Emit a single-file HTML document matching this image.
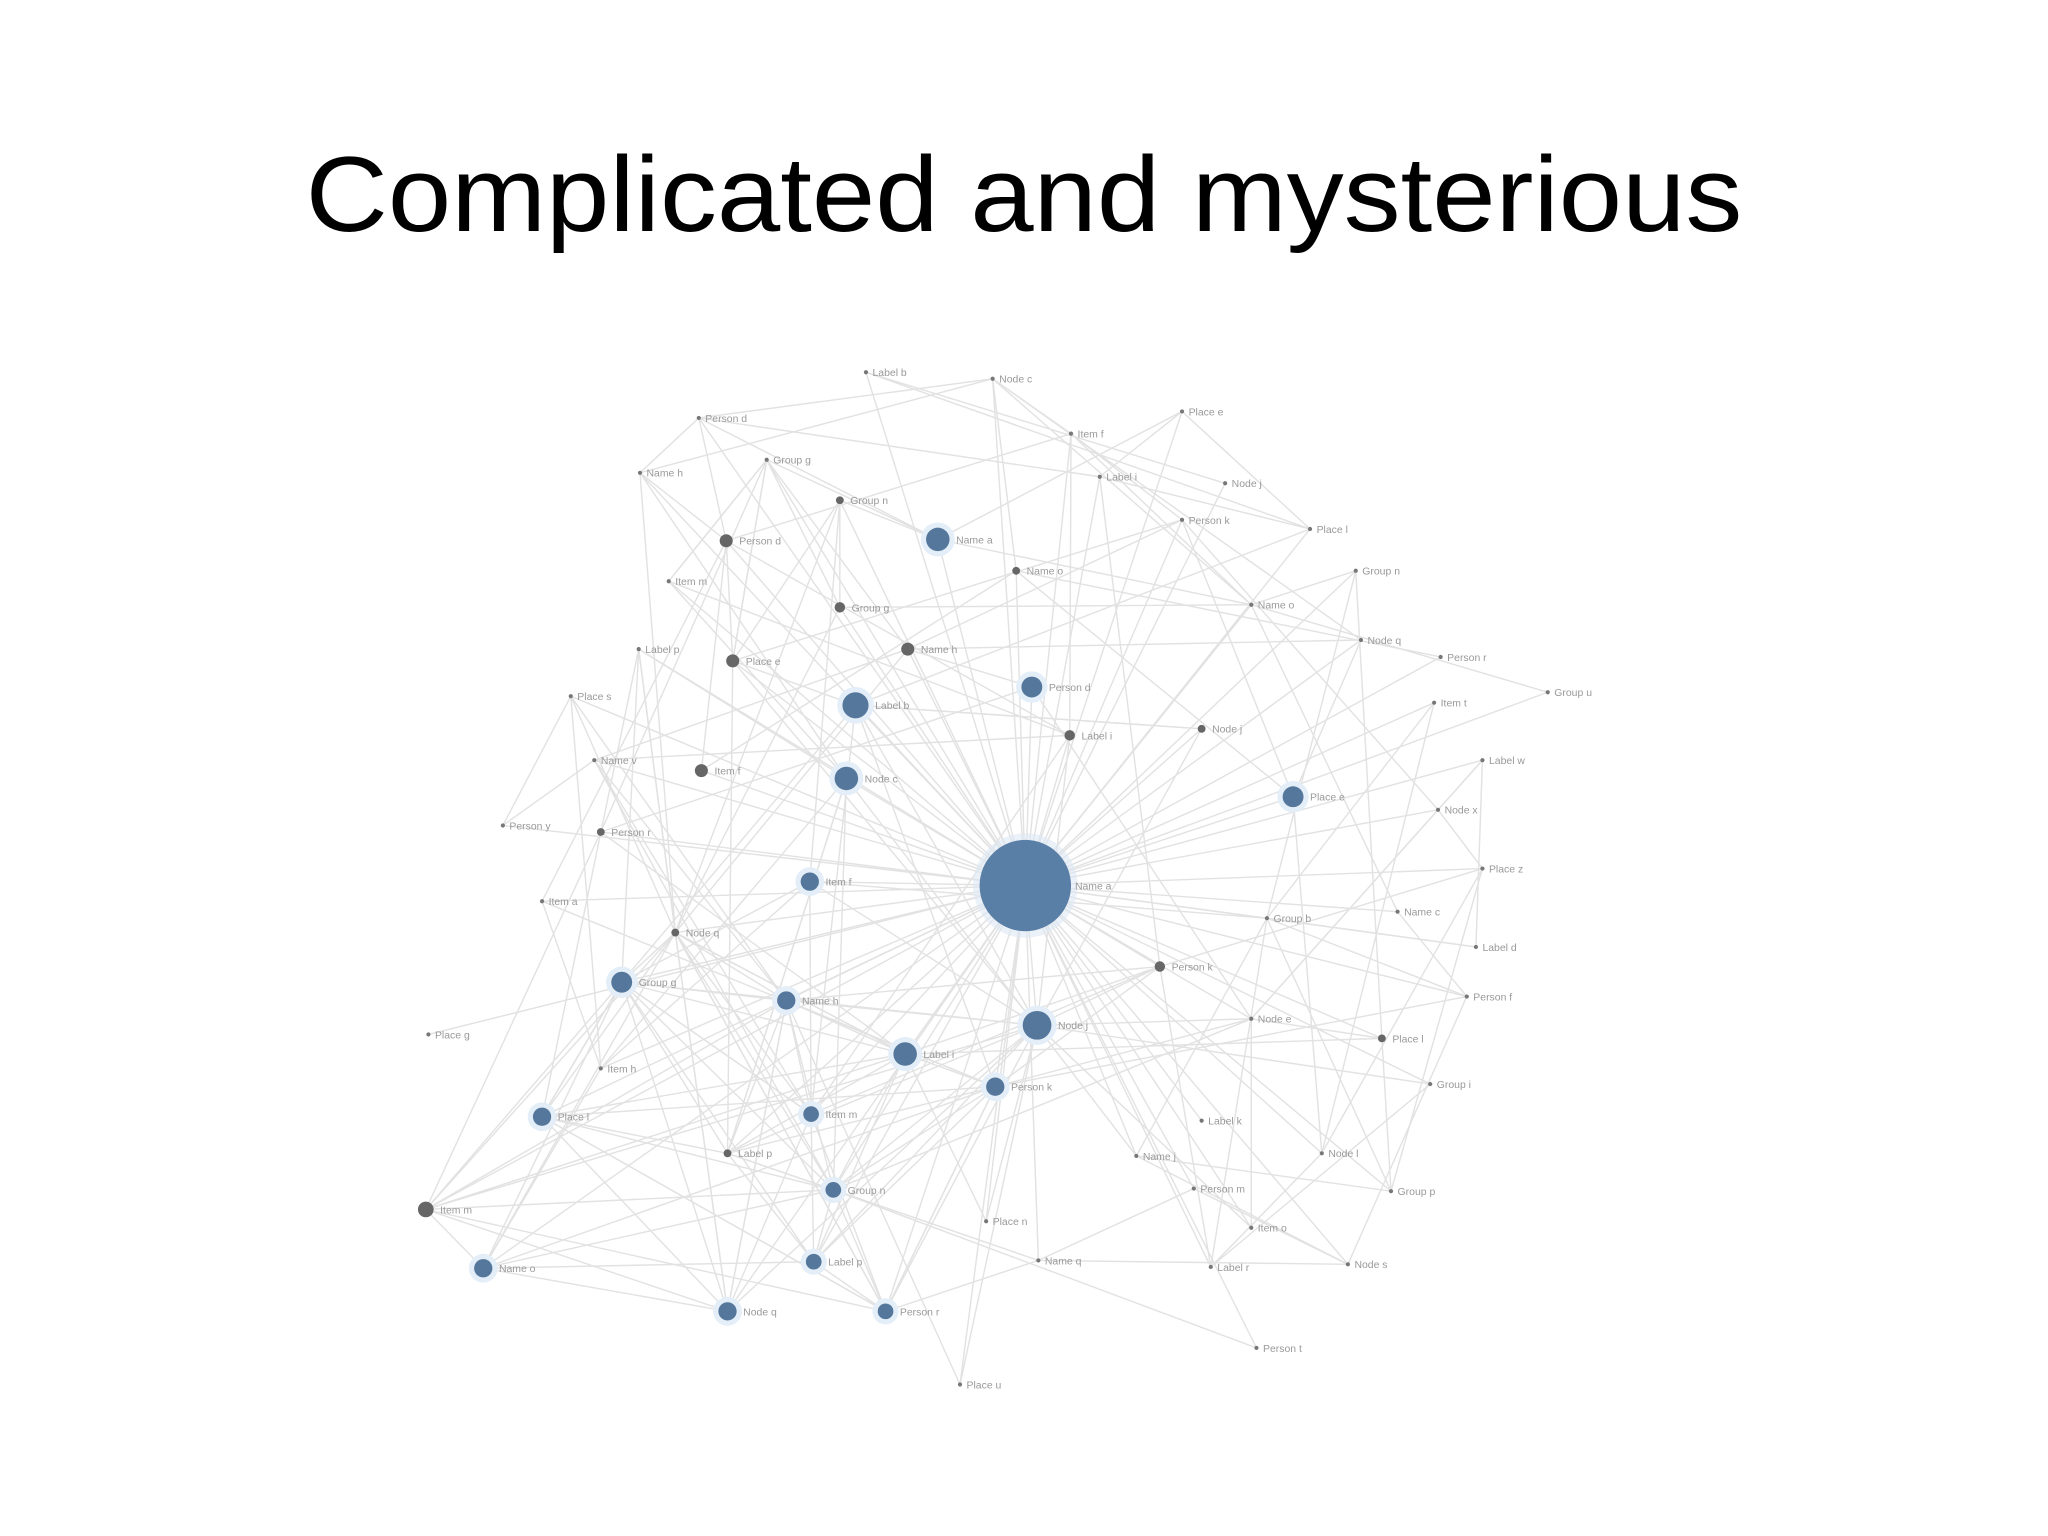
<!DOCTYPE html>
<html><head><meta charset="utf-8"><style>
html,body{margin:0;padding:0;background:#fff;}
svg{display:block;}
</style></head><body>
<svg id="s" width="2048" height="1536" viewBox="0 0 1568 1176" xmlns="http://www.w3.org/2000/svg">
<rect width="1568" height="1176" fill="#fff"/>
<text x="784" y="177" text-anchor="middle" font-family="Liberation Sans, sans-serif" font-size="82" fill="#000" textLength="1100" lengthAdjust="spacingAndGlyphs">Complicated and mysterious</text>
<g id="edges" stroke="#d6d6d6" stroke-width="1.1" opacity="0.7"></g>
<g id="nodes"></g>
</svg>
<script>
var H=[785,678];
var big=[[718,413,9],[655,540,10],[648,596,9],[790,526,8],[990,610,8],[620,675,7],[476,752,8],[602,766,7],[693,807,9],[794,785,11],[762,832,7],[415,855,7],[621,853,6],[638,911,6],[370,971,7],[623,966,6],[557,1004,7],[678,1004,6]];
var gray=[[556,414,5],[561,506,5],[537,590,5],[643,465,4],[695,497,5],[819,563,4],[920,558,3],[888,740,4],[1058,795,3],[326,926,6],[643,383,3],[778,437,3],[557,883,3],[517,714,3],[460,637,3]];
var small=[[663,285],[760,290],[535,320],[905,315],[820,332],[587,352],[490,362],[842,365],[938,370],[905,398],[1003,405],[512,445],[1038,437],[958,463],[489,497],[1042,490],[1103,503],[437,533],[1098,538],[1185,530],[455,582],[1135,582],[1101,620],[385,632],[1135,665],[415,690],[970,703],[1070,698],[1130,725],[958,780],[1123,763],[328,792],[460,818],[1095,830],[870,885],[920,858],[1012,883],[914,910],[755,935],[958,940],[1065,912],[795,965],[927,970],[1032,968],[962,1032],[735,1060]];
var names=["Name","Label","Node","Person","Place","Item","Group"];
var E="",N="";
function ln(a,b){E+='<line x1="'+a[0]+'" y1="'+a[1]+'" x2="'+b[0]+'" y2="'+b[1]+'"/>';}
var all=big.concat(gray).concat(small);
all.forEach(function(p){ln(p,H);});
var seed=7;function r(){seed=(seed*9301+49297)%233280;return seed/233280;}
for(var i=0;i<380;i++){var a=all[Math.floor(r()*all.length)],b=all[Math.floor(r()*all.length)];if(Math.hypot(a[0]-b[0],a[1]-b[1])<380)ln(a,b);}
var ll=big.concat(gray).filter(function(p){return p[1]>700&&p[0]<800;});
for(var i=0;i<ll.length;i++)for(var j=i+1;j<ll.length;j++)if(r()<0.6)ln(ll[i],ll[j]);
document.getElementById('edges').innerHTML=E;
function lab(x,y,k){return '<text x="'+(x+5)+'" y="'+(y+3)+'" font-family="Liberation Sans, sans-serif" font-size="8" fill="#999">'+names[k%names.length]+' '+String.fromCharCode(97+k%26)+'</text>';}
N+='<circle cx="'+H[0]+'" cy="'+H[1]+'" r="40" fill="#dde8f3" opacity="0.6"/><circle cx="'+H[0]+'" cy="'+H[1]+'" r="35" fill="#5a7fa7"/>';
N+=lab(H[0]+33,H[1],0);
big.forEach(function(p,k){N+='<circle cx="'+p[0]+'" cy="'+p[1]+'" r="'+(p[2]+4)+'" fill="#e3eef8"/><circle cx="'+p[0]+'" cy="'+p[1]+'" r="'+p[2]+'" fill="#55779b"/>'+lab(p[0]+p[2],p[1],k);});
gray.forEach(function(p,k){N+='<circle cx="'+p[0]+'" cy="'+p[1]+'" r="'+p[2]+'" fill="#666"/>'+lab(p[0]+p[2],p[1],k+3);});
small.forEach(function(p,k){N+='<circle cx="'+p[0]+'" cy="'+p[1]+'" r="1.6" fill="#777"/>'+lab(p[0],p[1],k+1);});
document.getElementById('nodes').innerHTML=N;
</script>
</body></html>
